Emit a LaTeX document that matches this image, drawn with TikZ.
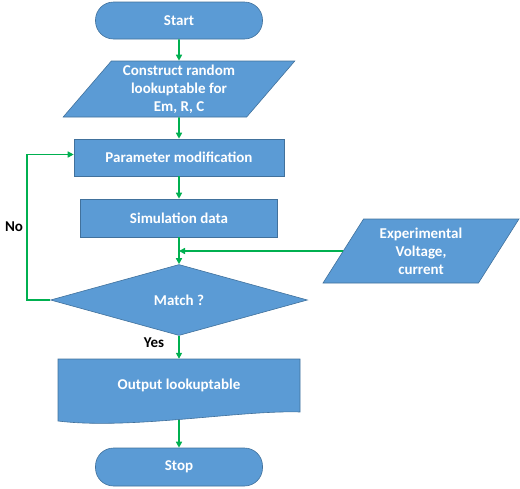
\documentclass[tikz,border=0pt]{standalone}
\usepackage{fontspec}
\setmainfont{Carlito}
\usetikzlibrary{shapes.geometric,arrows.meta}
\definecolor{boxblue}{HTML}{5B9BD5}
\definecolor{boxline}{HTML}{41719C}
\definecolor{flowgreen}{HTML}{00B050}
\tikzset{
	box/.style={draw=boxline, fill=boxblue, line width=0.6pt, text=white,
		font=\fontsize{15}{18}\selectfont\bfseries, align=center, inner sep=0pt},
	term/.style={box, rounded corners=18pt},
	io/.style={box, trapezium, trapezium stretches=true},
	flow/.style={draw=flowgreen, line width=1.8pt, -{Triangle[length=6pt,width=6pt]}},
	lbl/.style={font=\fontsize{15}{18}\selectfont\bfseries}
}
\begin{document}
\begin{tikzpicture}[x=1pt,y=-1pt]
\useasboundingbox (0,0) rectangle (520,488);

\node[term, minimum width=167pt, minimum height=37pt] (start) at (179,20.5) {Start};
\node[io, trapezium left angle=50.6, trapezium right angle=129.4,
	minimum width=232pt, minimum height=56pt] (lut) at (179,89)
	{Construct random\\lookuptable for\\Em, R, C};
\node[box, minimum width=210pt, minimum height=37pt] (param) at (179,157.5) {Parameter modification};
\node[box, minimum width=197pt, minimum height=38pt] (sim) at (179,218) {Simulation data};
\node[io, trapezium left angle=58, trapezium right angle=122,
	minimum width=196pt, minimum height=64pt] (exp) at (421,251)
	{Experimental\\Voltage,\\current};
\node[box, diamond, minimum width=257pt, minimum height=71pt] (match) at (179,300) {Match ?};

% document shape with wavy bottom
\draw[draw=boxline, fill=boxblue, line width=0.6pt]
	(58,359) -- (300,359) -- (300,412) .. controls (240,410) and (130,430) .. (58,421) -- cycle;
\node[text=white, font=\fontsize{15}{18}\selectfont\bfseries, minimum width=242pt,
	minimum height=53pt, inner sep=0pt] (out) at (179,385.5) {Output lookuptable};
\coordinate (outb) at (179,419.5);

\node[term, minimum width=167pt, minimum height=38pt] (stop) at (179,467) {Stop};

\node[lbl] (no) at (14,227) {No};
\node[lbl] (yes) at (154,343) {Yes};

\draw[flow] (start) -- (lut);
\draw[flow] (lut) -- (param);
\draw[flow] (param) -- (sim);
\draw[flow] (sim) -- (match);
\draw[flow] (exp.west) -- (exp.west -| sim.south);
\draw[flow] (match.west) -- ++(-23,0) |- ([yshift=3pt]param.west);
\draw[flow] (match) -- (out);
\draw[flow] (outb) -- (stop);
\end{tikzpicture}
\end{document}
